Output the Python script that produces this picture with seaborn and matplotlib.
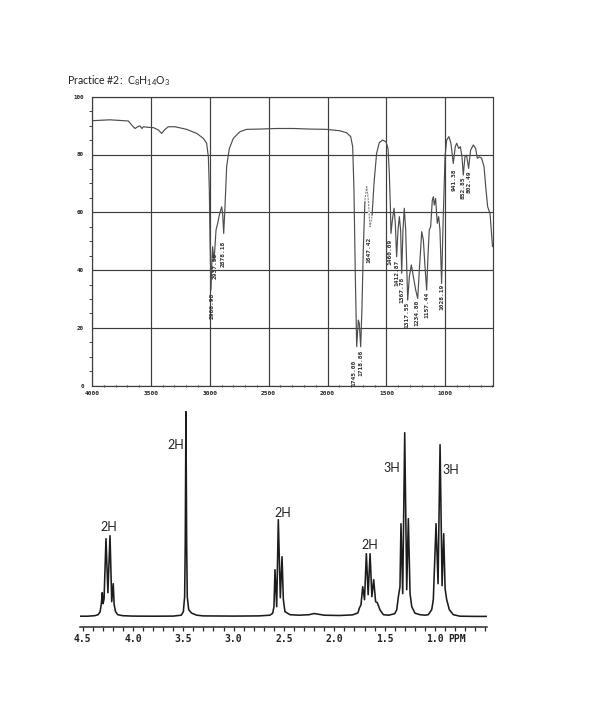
import numpy as np
import pandas as pd
import matplotlib
matplotlib.use("Agg")
import matplotlib.pyplot as plt
from matplotlib.ticker import MultipleLocator
import seaborn as sns

# IR spectrum: wavenumber (cm-1) and %T
ir_wavenumber = [4000, 3847, 3692, 3663, 3635, 3612, 3593, 3576, 3564, 3522,
                 3479, 3437, 3409, 3380, 3352, 3295, 3196, 3111, 3055, 3027,
                 3012, 3004, 2998, 2990, 2981, 2976, 2964, 2947, 2933, 2919,
                 2899, 2891, 2882, 2871, 2857, 2834, 2800, 2744, 2687, 2574,
                 2432, 2291, 2150, 2008, 1895, 1838, 1804, 1787, 1776, 1765,
                 1753, 1739, 1731, 1719, 1708, 1697, 1683, 1668, 1654, 1640,
                 1623, 1606, 1584, 1561, 1533, 1504, 1487, 1476, 1467, 1462,
                 1450, 1436, 1425, 1414, 1402, 1391, 1380, 1371, 1360, 1349,
                 1337, 1320, 1306, 1289, 1272, 1252, 1235, 1221, 1201, 1187,
                 1173, 1159, 1148, 1137, 1125, 1111, 1102, 1094, 1083, 1069,
                 1057, 1046, 1032, 1018, 1003, 989, 970, 953, 933, 916,
                 904, 887, 873, 859, 848, 834, 820, 803, 786, 763,
                 743, 729, 712, 692, 672, 655, 641, 621, 600]
ir_transmittance = [91.7, 92.0, 91.6, 90.2, 89.0, 89.6, 89.9, 89.0, 89.6, 89.4,
                    89.3, 88.5, 87.3, 88.7, 89.6, 89.6, 88.7, 87.3, 85.6, 83.9,
                    79.2, 67.7, 50.4, 33.1, 44.6, 48.1, 43.0, 53.9, 56.2, 59.1,
                    61.9, 59.6, 52.7, 61.9, 75.8, 82.1, 85.6, 87.9, 88.7, 88.8,
                    89.0, 89.0, 88.8, 88.7, 88.2, 87.5, 86.2, 82.7, 67.7, 38.9,
                    13.5, 22.7, 21.6, 13.5, 27.3, 46.9, 64.2, 68.9, 64.2, 55.0,
                    58.5, 70.0, 80.4, 84.1, 85.0, 84.4, 82.1, 73.5, 61.9, 52.7,
                    57.3, 61.4, 56.2, 44.6, 53.9, 58.5, 53.9, 38.9, 53.9, 61.4,
                    53.9, 29.6, 37.7, 41.8, 37.7, 33.1, 30.2, 40.0, 53.3, 50.4,
                    41.2, 33.1, 44.6, 53.9, 55.0, 64.2, 65.4, 62.5, 64.8, 56.2,
                    58.5, 53.9, 35.4, 58.5, 79.2, 85.0, 86.2, 83.9, 76.9, 82.7,
                    83.9, 82.1, 82.7, 79.2, 72.9, 79.2, 79.8, 75.2, 81.5, 83.3,
                    82.1, 78.7, 79.2, 78.7, 75.8, 67.7, 61.9, 59.6, 48.1]

# peak labels printed under the IR minima
ir_peak_text = ["2966.98", "2937.58", "2878.18", "1745.00", "1718.86", "1647.42",
                "1460.09", "1412.87", "1367.78", "1317.55", "1234.80", "1157.44",
                "1028.19", "941.38", "852.85", "802.49"]
ir_peak_wn = [2984, 2953, 2885, 1778, 1716, 1646, 1470, 1408, 1371, 1329,
              1238, 1159, 1026, 924, 848, 802]
ir_peak_top = [32, 46, 50, 9, 12.6, 51.6, 51, 43.5, 37.7, 29,
               29.6, 32.5, 35.4, 75.2, 72.3, 74.6]

# 1H NMR trace: chemical shift (ppm) and signal height
nmr_ppm = [4.525, 4.45, 4.38, 4.345, 4.325, 4.312, 4.304, 4.296, 4.286, 4.267,
           4.248, 4.227, 4.210, 4.195, 4.186, 4.172, 4.150, 4.10, 4.00, 3.80,
           3.60, 3.52, 3.499, 3.486, 3.480, 3.473, 3.466, 3.460, 3.446, 3.416,
           3.39, 3.366, 3.30, 3.00, 2.75, 2.64, 2.612, 2.599, 2.589, 2.572,
           2.556, 2.536, 2.519, 2.506, 2.490, 2.440, 2.35, 2.25, 2.20, 2.16,
           2.10, 1.95, 1.82, 1.778, 1.765, 1.752, 1.735, 1.718, 1.700, 1.682,
           1.664, 1.645, 1.627, 1.609, 1.590, 1.573, 1.546, 1.513, 1.46, 1.40,
           1.380, 1.364, 1.348, 1.338, 1.321, 1.301, 1.281, 1.265, 1.248, 1.231,
           1.199, 1.149, 1.10, 1.067, 1.033, 1.017, 0.990, 0.970, 0.950, 0.930,
           0.914, 0.900, 0.884, 0.858, 0.818, 0.752, 0.60, 0.484]
nmr_height = [0.5, 0.5, 1.0, 2.0, 5.0, 14, 24, 13, 18, 78,
              24, 81, 15, 33, 12, 5, 2, 1.0, 0.6, 0.5,
              0.6, 1.5, 5, 20, 73, 205, 73, 20, 7, 3.5,
              2.5, 1.5, 0.8, 0.6, 0.8, 1.5, 3.4, 10, 47, 10,
              97, 19, 60, 17, 5, 2, 1.5, 2.0, 3.2, 2.5,
              1.5, 1.2, 1.8, 3.3, 4, 8.4, 12, 30, 17, 63,
              22, 63, 20, 37, 15, 14, 6.7, 2.0, 1.5, 3,
              7, 20, 30, 93, 23, 184, 27, 98, 23, 10,
              3.5, 2, 1.5, 2, 7, 17, 93, 33, 172, 31,
              83, 28, 17, 7, 2, 0.5, 0.3, 0.3]

nmr_label_text = ["2H", "2H", "2H", "2H", "3H", "3H"]
nmr_label_ppm = [4.237, 3.575, 2.516, 1.645, 1.424, 0.841]
nmr_label_height = [89.7, 171.7, 104, 71.7, 148.4, 146.7]

sns.set_style("white")
plt.rcParams["font.family"] = ["Lato", "DejaVu Sans"]
plt.rcParams["mathtext.default"] = "regular"

MONO = "DejaVu Sans Mono"
W, H = 607, 711

fig = plt.figure(figsize=(W / 100, H / 100), dpi=100)
fig.text(66.7 / W, 1 - 81 / H, "Practice #2:  C$_8$H$_{14}$O$_3$",
         ha="left", va="center", fontsize=7.6, color="#222222")

# --- IR spectrum ---
ax_ir = fig.add_axes([92 / W, 1 - 385.7 / H, 400.5 / W, 289 / H])
ir = pd.DataFrame({"wn": ir_wavenumber, "T": ir_transmittance})
sns.lineplot(data=ir, x="wn", y="T", ax=ax_ir, color="#4d4d4d", lw=0.85,
             estimator=None, sort=False)

# the 1647 band is printed faint and broken in the original
faint = ir[(ir["wn"] <= 1690) & (ir["wn"] >= 1610)]
ax_ir.plot(faint["wn"], faint["T"], color="white", lw=1.6)
ax_ir.plot(faint["wn"], faint["T"], color="#858585", lw=0.75, ls=(0, (2, 1)))

ax_ir.set_xlim(4000, 600)
ax_ir.set_ylim(0, 100)
ax_ir.set_xticks(range(4000, 999, -500))
ax_ir.xaxis.set_minor_locator(MultipleLocator(100))
ax_ir.set_yticks(range(0, 101, 20))
ax_ir.yaxis.set_minor_locator(MultipleLocator(5))
ax_ir.grid(True, which="major", color="#3c3c3c", lw=0.85)
ax_ir.set_xlabel("")
ax_ir.set_ylabel("")
for side in ax_ir.spines.values():
    side.set_color("#3c3c3c")
    side.set_linewidth(0.85)
ax_ir.tick_params(axis="y", which="major", direction="out", length=5.5,
                  width=0.8, pad=0.5, labelsize=4.2, colors="#222222")
ax_ir.tick_params(axis="y", which="minor", direction="out", length=2.5,
                  width=0.7, colors="#444444", left=True)
ax_ir.tick_params(axis="x", which="major", direction="inout", length=3,
                  width=0.8, pad=2.5, labelsize=4.4, colors="#222222")
ax_ir.tick_params(axis="x", which="minor", direction="inout", length=2,
                  width=0.7, colors="#444444", bottom=True)
for lab in ax_ir.get_xticklabels() + ax_ir.get_yticklabels():
    lab.set_fontfamily(MONO)
    lab.set_fontweight("bold")

for txt, wn, top in zip(ir_peak_text, ir_peak_wn, ir_peak_top):
    ax_ir.text(wn, top, txt, rotation=90, ha="center", va="top",
               fontsize=4.5, family=MONO, fontweight="bold", color="#2e2e2e")

# --- 1H NMR spectrum ---
ax_nmr = fig.add_axes([80 / W, 1 - 626.7 / H, 407 / W, 221.7 / H])
nmr = pd.DataFrame({"ppm": nmr_ppm, "h": nmr_height})
sns.lineplot(data=nmr, x="ppm", y="h", ax=ax_nmr, color="#1c1c1c", lw=1.15,
             estimator=None, sort=False)
ax_nmr.set_xlim(4.525, 0.484)
ax_nmr.set_ylim(-10, 211.7)
ax_nmr.set_xlabel("")
ax_nmr.set_ylabel("")
ax_nmr.set_yticks([])
for s in ["left", "right", "top"]:
    ax_nmr.spines[s].set_visible(False)
ax_nmr.spines["bottom"].set_color("#2a2a2a")
ax_nmr.spines["bottom"].set_linewidth(1.1)

major = [4.5, 4.0, 3.5, 3.0, 2.5, 2.0, 1.5, 1.0]
ax_nmr.set_xticks(major)
ax_nmr.set_xticklabels([f"{v:.1f}" for v in major])
ax_nmr.xaxis.set_minor_locator(MultipleLocator(0.1))
ax_nmr.tick_params(axis="x", which="both", direction="out", length=3,
                   width=0.9, color="#2a2a2a", bottom=True)
ax_nmr.tick_params(axis="x", which="major", pad=2, labelsize=7,
                   labelcolor="#222222")
for lab in ax_nmr.get_xticklabels():
    lab.set_fontfamily(MONO)
    lab.set_fontweight("bold")
ax_nmr.text(0.786, -0.0555, "PPM", transform=ax_nmr.get_xaxis_transform(),
            ha="center", va="center", fontsize=7, family=MONO,
            fontweight="bold", color="#222222")

for txt, p, h in zip(nmr_label_text, nmr_label_ppm, nmr_label_height):
    ax_nmr.text(p, h, txt, ha="center", va="center", fontsize=9,
                color="#222222")

fig.savefig("out.png", dpi=100)
